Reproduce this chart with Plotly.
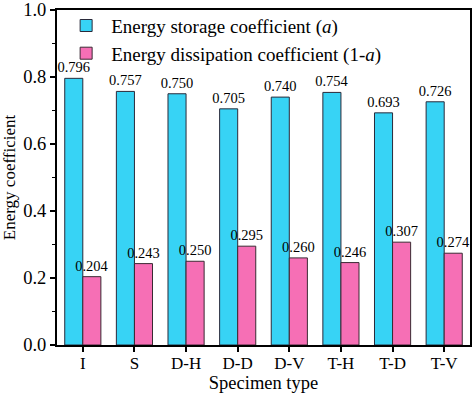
import plotly.graph_objects as go

categories = ["I", "S", "D-H", "D-D", "D-V", "T-H", "T-D", "T-V"]
storage = [0.796, 0.757, 0.750, 0.705, 0.740, 0.754, 0.693, 0.726]
dissipation = [0.204, 0.243, 0.250, 0.295, 0.260, 0.246, 0.307, 0.274]
y_ticks = [0.0, 0.2, 0.4, 0.6, 0.8, 1.0]

FONT = "Liberation Serif, Times New Roman, serif"

fig = go.Figure()
fig.add_trace(go.Bar(
    x=categories, y=storage, name="Energy storage coefficient (<i>a</i>)",
    marker=dict(color="#37D3F5", line=dict(color="#2a2a3a", width=1)),
    texttemplate="%{y:.3f}", textposition="outside", cliponaxis=False,
    textfont=dict(family=FONT, size=14.5, color="black"),
))
fig.add_trace(go.Bar(
    x=categories, y=dissipation, name="Energy dissipation coefficient (1-<i>a</i>)",
    marker=dict(color="#F66FB5", line=dict(color="#3a2a33", width=1)),
    texttemplate="%{y:.3f}", textposition="outside", cliponaxis=False,
    textfont=dict(family=FONT, size=14.5, color="black"),
))

fig.update_layout(
    width=474, height=395,
    margin=dict(l=57, r=4, t=10, b=50, autoexpand=False),
    plot_bgcolor="white", paper_bgcolor="white",
    barmode="group", bargap=0.3, bargroupgap=0,
    font=dict(family=FONT, size=16, color="black"),
    uniformtext=dict(minsize=12, mode="show"),
    legend=dict(x=0.01, y=1.01, xanchor="left", yanchor="top",
                bgcolor="rgba(0,0,0,0)", font=dict(family=FONT, size=19),
                itemwidth=40, tracegroupgap=0),
    showlegend=True,
)
fig.update_xaxes(
    automargin=False,
    showline=True, linecolor="black", linewidth=2, mirror=True,
    ticks="outside", ticklen=5, tickwidth=1.5, tickcolor="black",
    tickfont=dict(family=FONT, size=17), ticklabelstandoff=-3,
    title=dict(text="Specimen type", font=dict(family=FONT, size=18.5), standoff=0),
)
fig.update_yaxes(
    automargin=False,
    range=[0, 1.0], tickvals=y_ticks, tickformat=".1f",
    showline=True, linecolor="black", linewidth=2, mirror=True,
    ticks="outside", ticklen=5, tickwidth=1.5, tickcolor="black",
    minor=dict(dtick=0.1, ticks="outside", ticklen=3, tickcolor="black", tickwidth=1),
    showgrid=False, zeroline=False,
    tickfont=dict(family=FONT, size=18.5),
    title=dict(text="Energy coefficient", font=dict(family=FONT, size=17), standoff=3),
)

fig.write_html("out.html", config={"displayModeBar": False},
               post_script="document.body.style.margin='0';")
